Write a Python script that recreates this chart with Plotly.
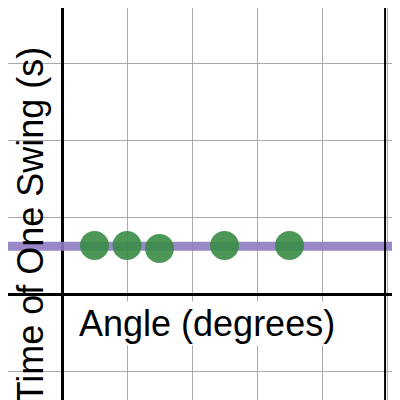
import plotly.graph_objects as go

angles = [5, 10, 15, 25, 35]
times = [0.64, 0.64, 0.60, 0.64, 0.64]
fit_x = [-20, 70]
fit_y = [0.63, 0.63]

fig = go.Figure()
fig.add_trace(go.Scatter(x=fit_x, y=fit_y, mode="lines",
                         line=dict(color="#8e7cc3", width=9), opacity=0.9))
fig.add_trace(go.Scatter(x=angles, y=times, mode="markers",
                         marker=dict(color="#388c46", size=29, opacity=0.9)))

fig.add_vline(x=49.7, line=dict(color="black", width=2))
fig.add_annotation(x=22.3, y=-0.38, text="Angle (degrees)",
                   showarrow=False, bgcolor="white",
                   font=dict(size=36, color="black", family="Liberation Sans"))
fig.add_annotation(x=-4.9, y=0.9, text="Time of One Swing (s)", textangle=-90,
                   showarrow=False, font=dict(size=36, color="black", family="Liberation Sans"))

fig.update_xaxes(range=[-8.31, 53.23], dtick=10, showgrid=True, gridcolor="#aaaaaa",
                 zeroline=True, zerolinecolor="black", zerolinewidth=3,
                 showticklabels=False)
fig.update_yaxes(range=[-1.47, 3.72], dtick=1, showgrid=True, gridcolor="#aaaaaa",
                 zeroline=True, zerolinecolor="black", zerolinewidth=3,
                 showticklabels=False)
fig.update_layout(width=400, height=400, margin=dict(l=0, r=0, t=0, b=0),
                  plot_bgcolor="white", paper_bgcolor="white", showlegend=False)
fig.write_html("out.html")
